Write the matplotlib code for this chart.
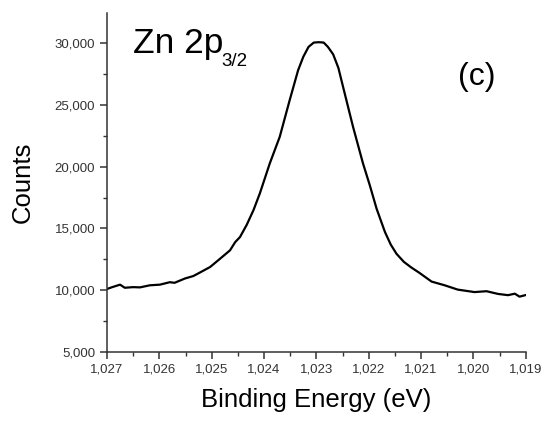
import matplotlib
matplotlib.use("Agg")
import matplotlib.pyplot as plt
from matplotlib.ticker import MultipleLocator, FuncFormatter

plt.rcParams["font.family"] = ["Liberation Sans", "DejaVu Sans"]

# Zn 2p3/2 spectrum
energy = [1027.00, 1026.90, 1026.75, 1026.66, 1026.50, 1026.37, 1026.18, 1025.99,
          1025.80, 1025.71, 1025.51, 1025.35, 1025.23, 1025.03, 1024.84, 1024.65,
          1024.55, 1024.46, 1024.33, 1024.20, 1024.08, 1023.89, 1023.70, 1023.51,
          1023.35, 1023.25, 1023.15, 1023.05, 1022.95, 1022.86, 1022.78, 1022.68,
          1022.58, 1022.49, 1022.30, 1022.11, 1021.98, 1021.85, 1021.69, 1021.58,
          1021.47, 1021.33, 1021.19, 1021.03, 1020.80, 1020.55, 1020.30, 1019.98,
          1019.75, 1019.53, 1019.34, 1019.21, 1019.12, 1019.01]
counts = [10100, 10250, 10450, 10200, 10250, 10230, 10400, 10450,
          10650, 10600, 10950, 11150, 11420, 11880, 12550, 13230,
          13900, 14300, 15300, 16500, 17840, 20270, 22420, 25390,
          27800, 28900, 29700, 30050, 30080, 30050, 29700, 29100,
          28000, 26460, 23230, 20270, 18500, 16600, 14710, 13700,
          12950, 12300, 11850, 11400, 10700, 10400, 10050, 9850,
          9920, 9700, 9600, 9720, 9480, 9600]

W, H = 550, 425
fig = plt.figure(figsize=(W / 100, H / 100), dpi=100)
ax = fig.add_axes([0.1945, 0.1718, 0.7615, 0.7972])

ax.plot(energy, counts, color="black", lw=1.6)

ax.set_xlim(1027, 1019)
ax.set_ylim(5000, 32430)

ax.spines["top"].set_visible(False)
ax.spines["right"].set_visible(False)
for s in ("left", "bottom"):
    ax.spines[s].set_linewidth(1.1)
    ax.spines[s].set_color("#333333")

ax.xaxis.set_major_locator(MultipleLocator(1))
ax.xaxis.set_minor_locator(MultipleLocator(0.5))
ax.yaxis.set_major_locator(MultipleLocator(5000))
ax.yaxis.set_minor_locator(MultipleLocator(2500))
comma = FuncFormatter(lambda v, p: f"{v:,.0f}")
ax.xaxis.set_major_formatter(comma)
ax.yaxis.set_major_formatter(comma)
ax.tick_params(which="major", direction="out", length=5, width=1.1, labelsize=9.5,
               color="#333333", labelcolor="#333333")
ax.tick_params(which="minor", direction="out", length=3, width=1.0, color="#333333")

ax.set_xlabel("Binding Energy (eV)", fontsize=18.5)
ax.xaxis.set_label_coords(0.5, -0.105)
ax.set_ylabel("Counts", fontsize=18.5)
ax.yaxis.set_label_coords(-0.172, 0.5)

# panel label, placed in figure pixels
fig.text(133 / W, 1 - 53 / H, "Zn 2p", fontsize=25.5, ha="left", va="baseline")
fig.text(221 / W, 1 - 66 / H, "3/2", fontsize=13.5, ha="left", va="baseline")
fig.text(477 / W, 1 - 77 / H, "(c)", fontsize=23, ha="center", va="center")

fig.savefig("out.png", dpi=100)
